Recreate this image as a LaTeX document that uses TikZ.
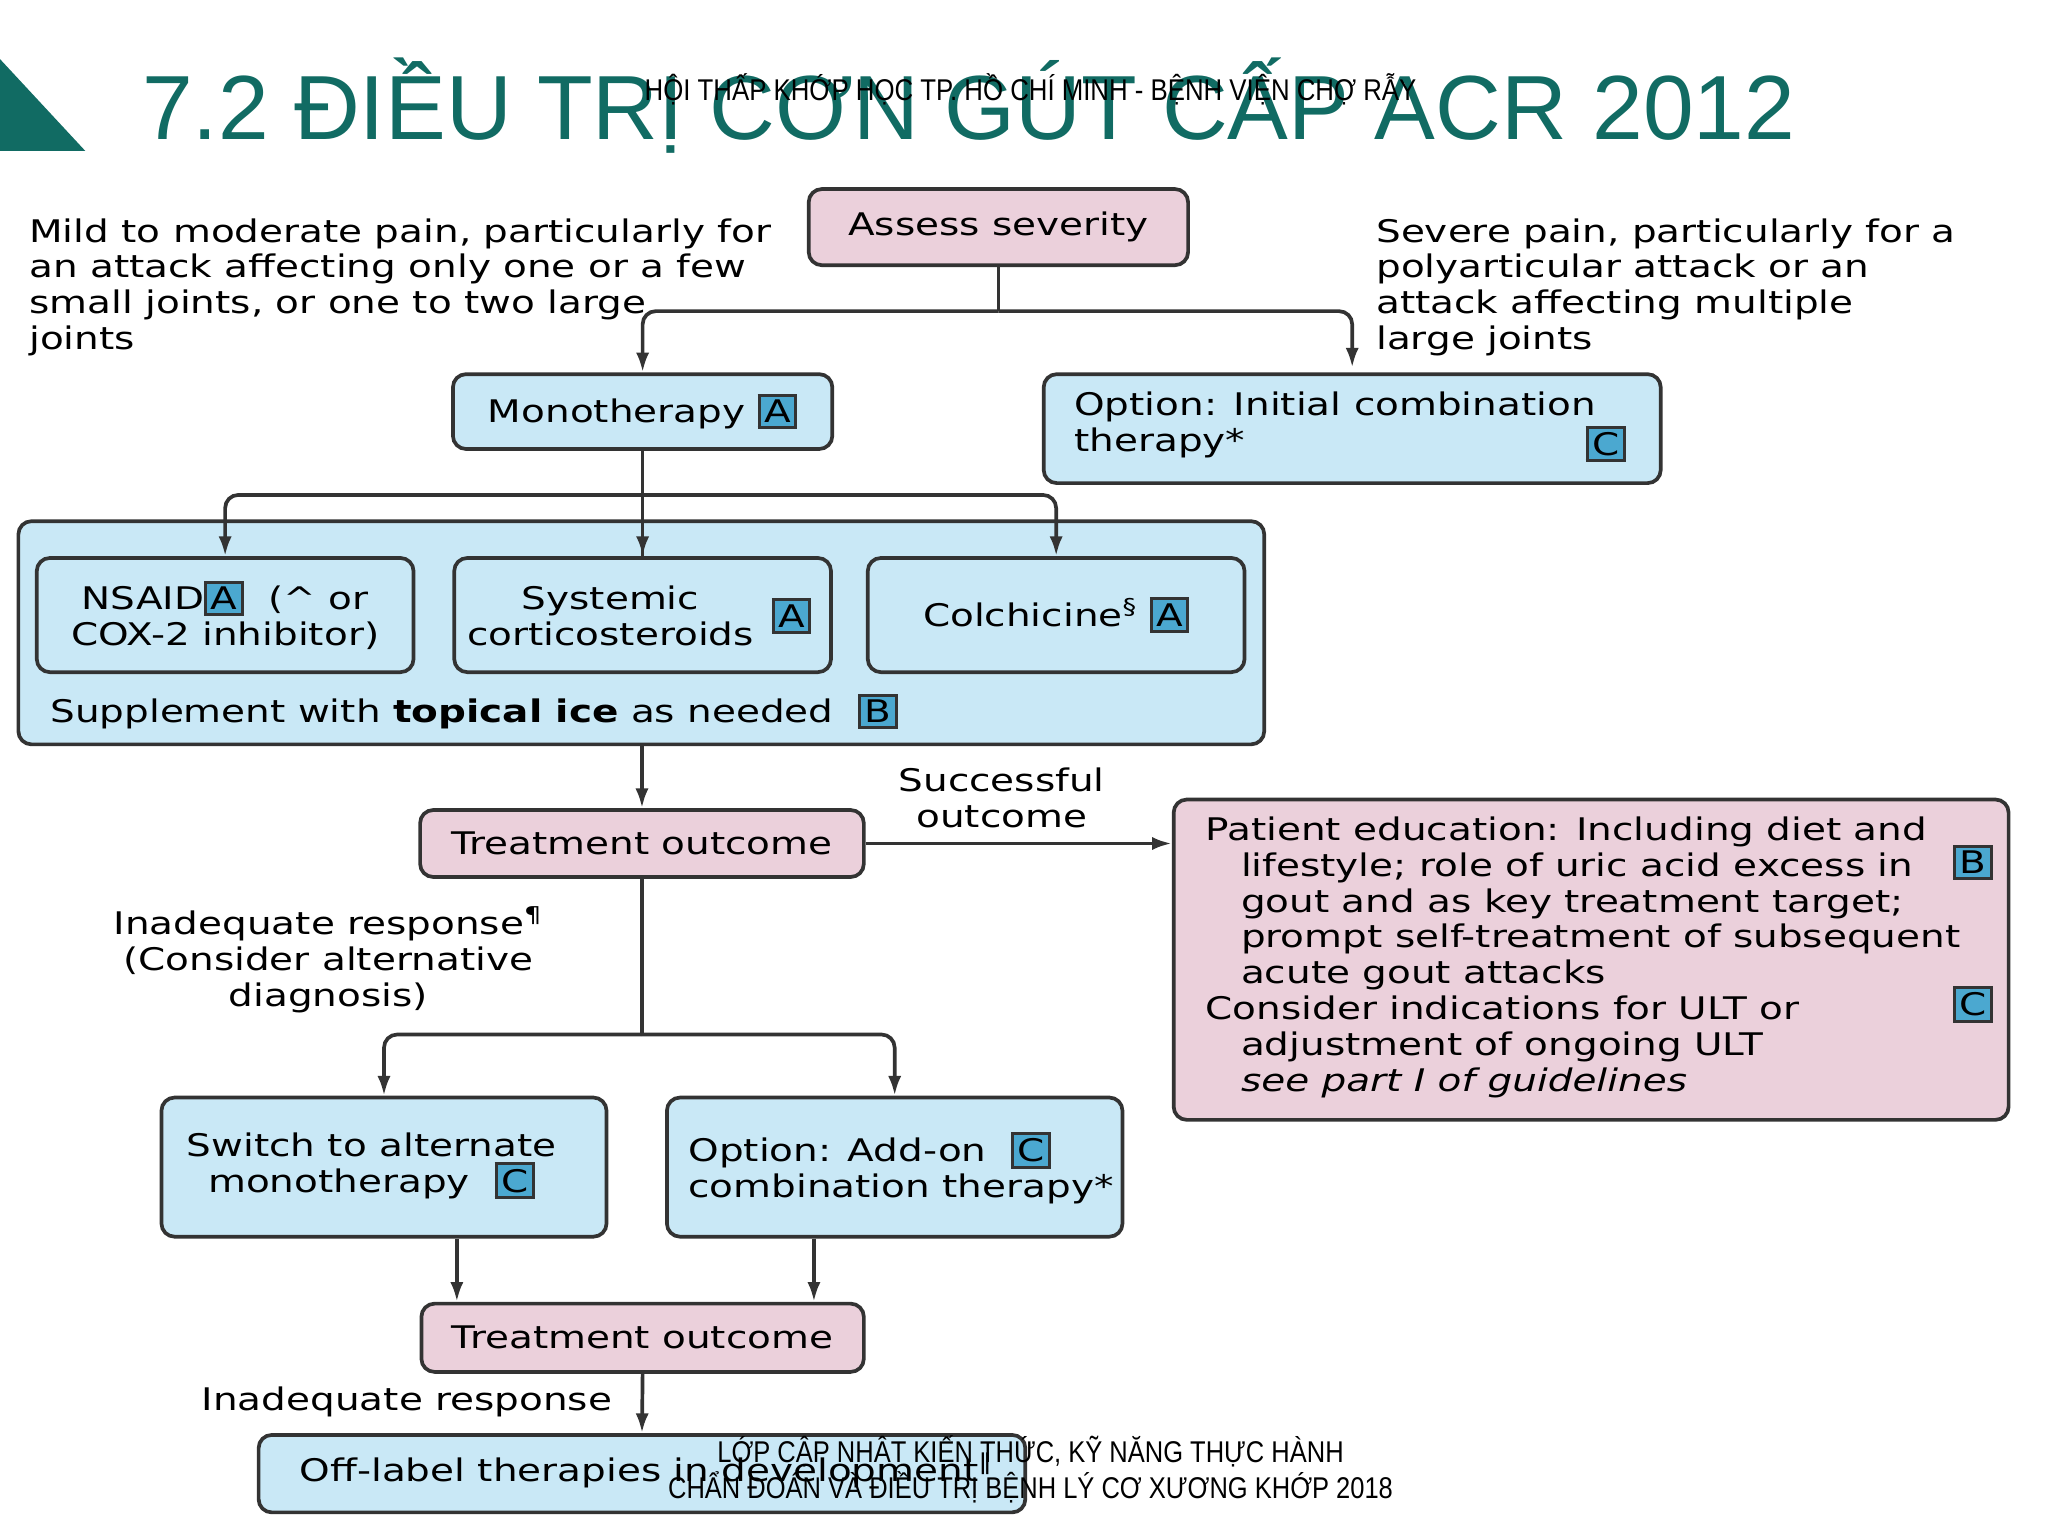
\documentclass[tikz,border=0pt]{standalone}
\usepackage{fontspec}
\setmainfont{DejaVu Sans}[FakeStretch=1.25]
\newfontfamily\titlefont{Liberation Sans}
\usetikzlibrary{arrows.meta}
\definecolor{teal1}{HTML}{116B63}
\definecolor{pinkbox}{HTML}{EBD0DB}
\definecolor{bluebox}{HTML}{C9E8F6}
\definecolor{badgec}{HTML}{4BA8D0}
\definecolor{edge}{HTML}{333333}
\newcommand\gbadge[1]{{\setlength\fboxsep{1.5pt}\setlength\fboxrule{1.3pt}\fcolorbox{edge}{badgec}{#1}}}
\tikzset{
 box/.style={draw=edge,line width=1.6pt,rounded corners=2mm,inner sep=1mm,align=center,font=\fontsize{13.5}{15.5}\selectfont},
 pbox/.style={box,fill=pinkbox},
 bbox/.style={box,fill=bluebox},
 txt/.style={font=\fontsize{13.5}{15.5}\selectfont,inner sep=0pt},
 conn/.style={line width=1.6pt,draw=edge,rounded corners=2mm,-{Latex[length=3mm,width=2mm]}},
 line/.style={line width=1.6pt,draw=edge,rounded corners=2mm}
}
\begin{document}
\begin{tikzpicture}[x=0.2mm,y=-0.2mm]
\useasboundingbox (0,0) rectangle (1560,1170);
\fill[white] (0,0) rectangle (1560,1170);
\fill[teal1] (0,45) -- (65,115) -- (0,115) -- cycle;
\node[anchor=base west,inner sep=0pt,text=teal1,font=\titlefont\fontsize{39.5}{40}\selectfont] (title) at (108,106) {7.2 ĐIỀU TRỊ CƠN GÚT CẤP ACR 2012};
\node[inner sep=0pt,font=\titlefont\fontsize{13}{13}\selectfont] (org) at (785,68) {\scalebox{0.86}[1]{HỘI THẤP KHỚP HỌC TP. HỒ CHÍ MINH - BỆNH VIỆN CHỢ RẪY}};

\node[pbox,minimum width=57.8mm,minimum height=11.6mm] (assess) at (760.5,173) {Assess severity};
\node[bbox,minimum width=57.8mm,minimum height=11.4mm] (mono) at (489.5,313.5) {Monotherapy \gbadge{A}};
\node[bbox,minimum width=94mm,minimum height=16.6mm] (initc) at (1030,326.5) {};
\node[txt,anchor=north west,align=left] (initt) at (818,298) {Option: Initial combination\\therapy*};
\node[txt] (initb) at (1223,338) {\gbadge{C}};
\node[txt,anchor=north west,align=left] (lefttxt) at (22,166) {Mild to moderate pain, particularly for\\an attack affecting only one or a few\\small joints, or one to two large\\joints};
\node[txt,anchor=north west,align=left] (righttxt) at (1048,166) {Severe pain, particularly for a\\polyarticular attack or an\\attack affecting multiple\\large joints};

\node[bbox,minimum width=189.8mm,minimum height=34mm] (big) at (488.5,482) {};
\node[bbox,minimum width=57.4mm,minimum height=17.4mm] (nsaid) at (171.5,468.5) {NSAID\gbadge{A} \ (\textasciicircum\ or\\COX-2 inhibitor)};
\node[bbox,minimum width=57.4mm,minimum height=17.4mm] (sys) at (489.5,468.5) {};
\node[txt,align=center] (syst) at (465,469) {Systemic\\corticosteroids};
\node[txt] (sysb) at (603,469) {\gbadge{A}};
\node[bbox,minimum width=57.4mm,minimum height=17.4mm] (colch) at (804.5,468.5) {Colchicine\textsuperscript{\S} \gbadge{A}};
\node[txt,anchor=west] (supp) at (38,542) {Supplement with \textbf{topical ice} as needed \ \gbadge{B}};

\node[pbox,minimum width=67.6mm,minimum height=10.2mm] (to1) at (489,642.5) {Treatment outcome};
\node[txt,align=center] (succ) at (763,608) {Successful\\outcome};
\node[pbox,minimum width=127.2mm,minimum height=48.8mm] (edu) at (1212,731) {};
\node[txt,anchor=north west,align=left] (edut) at (918,622) {Patient education: Including diet and\\\hspace*{5.4mm}lifestyle; role of uric acid excess in\\\hspace*{5.4mm}gout and as key treatment target;\\\hspace*{5.4mm}prompt self-treatment of subsequent\\\hspace*{5.4mm}acute gout attacks\\Consider indications for ULT or\\\hspace*{5.4mm}adjustment of ongoing ULT\\\hspace*{5.4mm}\textit{see part I of guidelines}};
\node[txt] (edub) at (1503,657) {\gbadge{B}};
\node[txt] (educ) at (1503,765) {\gbadge{C}};

\node[txt,align=center] (inad1) at (250,731) {Inadequate response\textsuperscript{¶}\\(Consider alternative\\diagnosis)};
\node[bbox,minimum width=67.8mm,minimum height=21.2mm] (switch) at (292.5,889) {};
\node[txt,align=center] (swt) at (283,888) {Switch to alternate\\monotherapy \ \gbadge{C}};
\node[bbox,minimum width=69.4mm,minimum height=21.2mm] (addon) at (681.5,889) {};
\node[txt,anchor=north west,align=left] (addt) at (524,862) {Option: Add-on \ \gbadge{C}\\combination therapy*};
\node[pbox,minimum width=67.4mm,minimum height=10.4mm] (to2) at (489.5,1019) {Treatment outcome};
\node[txt] (inad2) at (310,1068) {Inadequate response};
\node[bbox,minimum width=116.8mm,minimum height=11.8mm] (off) at (489,1122.5) {};
\node[txt,anchor=west] (offt) at (228,1120) {Off-label therapies in development\textsuperscript{‖}};
\node[inner sep=0pt,align=center,font=\titlefont\fontsize{13}{15.5}\selectfont] (foot) at (785,1119) {\scalebox{0.85}[1]{LỚP CẬP NHẬT KIẾN THỨC, KỸ NĂNG THỰC HÀNH}\\\scalebox{0.85}[1]{CHẨN ĐOÁN VÀ ĐIỀU TRỊ BỆNH LÝ CƠ XƯƠNG KHỚP 2018}};

\draw[line] (assess.south) -- (760.5,237);
\draw[conn] (760.5,237) -| (mono.north);
\draw[conn] (760.5,237) -| (1030,280);
\draw[line] (mono.south) -- (489.5,425);
\draw[conn] (489.5,377) -| (nsaid.north);
\draw[conn] (489.5,377) -| (colch.north);
\draw[conn] (489.5,380) -- (sys.north);
\draw[conn] (big.south -| to1.north) -- (to1.north);
\draw[conn] (to1.east) -- (edu.west |- to1.east);
\draw[line] (to1.south) -- (489,788);
\draw[conn] (489,788) -| (switch.north);
\draw[conn] (489,788) -| (addon.north);
\draw[conn] (switch.south -| 348,0) -- (to2.north -| 348,0);
\draw[conn] (addon.south -| 620,0) -- (to2.north -| 620,0);
\draw[conn] (to2.south) -- (off.north);
\end{tikzpicture}
\end{document}
